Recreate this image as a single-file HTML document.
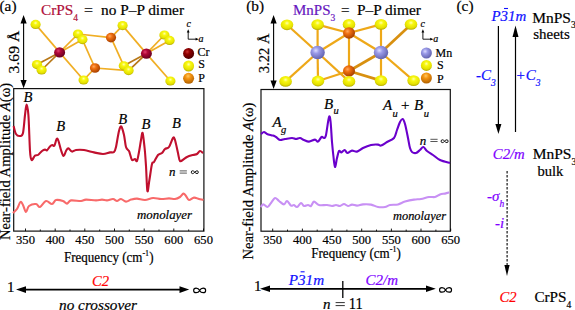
<!DOCTYPE html>
<html><head><meta charset="utf-8"><style>
html,body{margin:0;padding:0;background:#fff;overflow:hidden;}
svg{display:block;font-family:"Liberation Serif",serif;color:#000;}
text{stroke:currentColor;stroke-width:0.2px;}
</style></head><body>
<svg width="575" height="310" viewBox="0 0 575 310">
<defs>
<radialGradient id="gS" cx="0.5" cy="0.35" r="0.65"><stop offset="0" stop-color="#ffffb0"/><stop offset="0.3" stop-color="#f8f810"/><stop offset="0.75" stop-color="#e4e000"/><stop offset="1" stop-color="#b0a800"/></radialGradient>
<radialGradient id="gP" cx="0.38" cy="0.35" r="0.65"><stop offset="0" stop-color="#ffa860"/><stop offset="0.35" stop-color="#f07010"/><stop offset="1" stop-color="#a84000"/></radialGradient>
<radialGradient id="gCr" cx="0.38" cy="0.35" r="0.65"><stop offset="0" stop-color="#e04070"/><stop offset="0.35" stop-color="#b00838"/><stop offset="1" stop-color="#680020"/></radialGradient>
<radialGradient id="gCrL" cx="0.38" cy="0.35" r="0.65"><stop offset="0" stop-color="#c83030"/><stop offset="0.35" stop-color="#900000"/><stop offset="1" stop-color="#500000"/></radialGradient>
<radialGradient id="gMn" cx="0.38" cy="0.35" r="0.65"><stop offset="0" stop-color="#dcdcff"/><stop offset="0.35" stop-color="#9a9ae8"/><stop offset="1" stop-color="#6464b0"/></radialGradient>
<radialGradient id="gPL" cx="0.45" cy="0.3" r="0.7"><stop offset="0" stop-color="#ffc860"/><stop offset="0.35" stop-color="#f49410"/><stop offset="1" stop-color="#b06000"/></radialGradient>
</defs>
<text x="-0.5" y="11.2" font-size="15.3">(a)</text><text x="41.0" y="15.0" font-size="15.3" fill="#b0103a" style="color:#b0103a">CrPS<tspan font-size="9.5" dy="5.8">4</tspan></text><text x="84.0" y="15.0" font-size="15.0" textLength="9.0" lengthAdjust="spacingAndGlyphs">=</text><text x="101.0" y="15.0" font-size="15.0" textLength="83.0" lengthAdjust="spacingAndGlyphs">no P–P dimer</text><rect x="13.7" y="88.6" width="190.2" height="142.5" fill="none" stroke="#111" stroke-width="1.2"/><path d="M25.5 231.1v-2.6M40.3 231.1v-1.6M55.2 231.1v-2.6M70.0 231.1v-1.6M84.8 231.1v-2.6M99.7 231.1v-1.6M114.5 231.1v-2.6M129.3 231.1v-1.6M144.2 231.1v-2.6M159.0 231.1v-1.6M173.8 231.1v-2.6M188.7 231.1v-1.6M203.5 231.1v-2.6" stroke="#000" stroke-width="0.9" fill="none"/><g font-size="12.6"><text x="25.5" y="244.0" text-anchor="middle">350</text><text x="55.2" y="244.0" text-anchor="middle">400</text><text x="84.8" y="244.0" text-anchor="middle">450</text><text x="114.5" y="244.0" text-anchor="middle">500</text><text x="144.2" y="244.0" text-anchor="middle">550</text><text x="173.8" y="244.0" text-anchor="middle">600</text><text x="203.5" y="244.0" text-anchor="middle">650</text></g><path d="M13.6 126.0 C14.0 127.3 14.9 132.3 16.0 134.0 C17.1 135.7 18.8 136.2 20.0 136.0 C21.2 135.8 22.2 136.5 23.0 133.0 C23.8 129.5 24.4 119.7 25.0 115.0 C25.6 110.3 26.0 104.6 26.6 104.6 C27.2 104.6 27.8 107.3 28.4 115.0 C29.0 122.7 29.5 143.5 30.0 151.0 C30.5 158.5 30.8 159.2 31.6 160.0 C32.4 160.8 33.9 156.4 35.0 155.6 C36.1 154.8 36.8 155.8 38.0 155.0 C39.2 154.2 40.8 151.9 42.0 151.0 C43.2 150.1 44.2 149.7 45.0 149.6 C45.8 149.5 46.2 150.9 47.0 150.4 C47.8 149.9 49.1 147.3 50.0 146.4 C50.9 145.5 51.7 145.1 52.4 145.0 C53.1 144.9 53.6 146.7 54.4 145.6 C55.2 144.5 56.3 137.9 57.4 138.6 C58.5 139.3 60.0 147.1 61.0 150.0 C62.0 152.9 62.8 155.8 63.6 156.0 C64.4 156.2 65.2 152.3 66.0 151.0 C66.8 149.7 67.4 148.3 68.4 148.4 C69.4 148.5 70.7 151.3 72.0 151.6 C73.3 151.9 74.0 150.3 76.0 150.0 C78.0 149.7 81.0 149.6 84.0 150.0 C87.0 150.4 90.8 151.7 94.0 152.4 C97.2 153.1 100.3 154.0 103.0 154.0 C105.7 154.0 108.2 152.7 110.0 152.4 C111.8 152.1 113.0 152.9 114.0 152.0 C115.0 151.1 115.2 150.5 116.0 147.0 C116.8 143.5 118.1 134.4 119.0 131.0 C119.9 127.6 120.6 125.9 121.4 126.6 C122.2 127.3 123.2 131.6 124.0 135.0 C124.8 138.4 125.2 144.3 126.0 147.0 C126.8 149.7 128.3 149.8 129.0 151.0 C129.7 152.2 129.5 152.5 130.0 154.0 C130.5 155.5 131.2 159.2 132.0 160.0 C132.8 160.8 134.2 158.8 135.0 159.0 C135.8 159.2 136.3 162.2 137.0 161.0 C137.7 159.8 138.3 155.5 139.0 152.0 C139.7 148.5 140.4 143.2 141.0 140.0 C141.6 136.8 142.0 131.7 142.6 133.0 C143.2 134.3 144.0 142.5 144.6 148.0 C145.2 153.5 145.5 158.8 146.0 166.0 C146.5 173.2 146.8 188.7 147.4 191.0 C148.0 193.3 148.6 184.5 149.4 180.0 C150.2 175.5 151.2 167.0 152.0 164.0 C152.8 161.0 153.0 163.5 154.0 162.0 C155.0 160.5 156.7 156.5 158.0 155.0 C159.3 153.5 160.8 154.0 162.0 153.0 C163.2 152.0 163.8 150.0 165.0 149.0 C166.2 148.0 167.7 148.8 169.0 147.0 C170.3 145.2 172.0 139.2 173.0 138.0 C174.0 136.8 174.2 137.5 175.0 140.0 C175.8 142.5 177.2 149.5 178.0 153.0 C178.8 156.5 179.0 160.0 180.0 161.0 C181.0 162.0 182.8 159.7 184.0 159.0 C185.2 158.3 185.5 157.7 187.0 157.0 C188.5 156.3 191.3 155.5 193.0 155.0 C194.7 154.5 195.8 154.7 197.0 154.0 C198.2 153.3 199.0 151.2 200.0 151.0 C201.0 150.8 202.5 152.7 203.0 153.0" fill="none" stroke="#c0102e" stroke-width="2.1" stroke-linejoin="round"/><path d="M13.0 213.0 C13.7 212.3 15.8 210.8 17.0 209.0 C18.2 207.2 19.4 202.7 20.4 202.0 C21.4 201.3 22.1 203.3 23.0 205.0 C23.9 206.7 25.0 211.8 26.0 212.0 C27.0 212.2 27.3 207.3 29.0 206.0 C30.7 204.7 34.2 203.8 36.0 204.0 C37.8 204.2 38.3 207.5 40.0 207.0 C41.7 206.5 44.0 201.5 46.0 201.0 C48.0 200.5 50.3 204.2 52.0 204.0 C53.7 203.8 54.2 200.5 56.0 200.0 C57.8 199.5 61.2 200.4 63.0 201.0 C64.8 201.6 65.7 203.7 67.0 203.6 C68.3 203.5 68.7 200.8 71.0 200.4 C73.3 200.0 78.5 201.1 81.0 201.0 C83.5 200.9 83.5 199.7 86.0 199.6 C88.5 199.5 93.3 200.4 96.0 200.4 C98.7 200.4 100.2 199.6 102.0 199.6 C103.8 199.6 105.2 200.5 107.0 200.4 C108.8 200.3 111.3 198.9 113.0 199.0 C114.7 199.1 115.7 201.0 117.0 201.0 C118.3 201.0 119.5 198.9 121.0 199.0 C122.5 199.1 124.3 201.5 126.0 201.6 C127.7 201.7 129.2 200.1 131.0 199.6 C132.8 199.1 134.7 198.5 137.0 198.6 C139.3 198.7 142.3 200.1 145.0 200.0 C147.7 199.9 150.3 198.2 153.0 198.0 C155.7 197.8 158.3 198.9 161.0 199.0 C163.7 199.1 166.7 198.4 169.0 198.4 C171.3 198.4 173.2 199.2 175.0 199.0 C176.8 198.8 178.6 197.9 180.0 197.0 C181.4 196.1 182.4 193.8 183.4 193.6 C184.4 193.4 185.1 194.9 186.0 196.0 C186.9 197.1 187.7 199.7 189.0 200.0 C190.3 200.3 192.3 197.8 194.0 197.6 C195.7 197.4 197.4 198.6 199.0 199.0 C200.6 199.4 202.7 199.8 203.4 200.0" fill="none" stroke="#f86a6a" stroke-width="2.1" stroke-linejoin="round"/><g font-size="14.6" font-style="italic"><text x="23.4" y="101.5">B</text><text x="56.2" y="130.6">B</text><text x="118.3" y="124.4">B</text><text x="141.5" y="129.3">B</text><text x="172.0" y="128.2">B</text></g><text x="169.1" y="176.1" font-size="13.0" font-style="italic">n</text><path d="M179.7 170.9h7.2M179.7 173.1h7.2" stroke="#444" stroke-width="0.9"/><path d="M194.80 172.20 C196.30 170.31 198.30 170.31 198.30 172.20 C198.30 174.08 196.30 174.08 194.80 172.20 C193.30 170.31 191.30 170.31 191.30 172.20 C191.30 174.08 193.30 174.08 194.80 172.20" fill="none" stroke="#000" stroke-width="0.95"/><text x="137.0" y="218.5" font-size="13.0" font-style="italic" textLength="55.0" lengthAdjust="spacingAndGlyphs">monolayer</text><text x="10.2" y="240.1" font-size="14.6" textLength="157.3" lengthAdjust="spacingAndGlyphs" transform="rotate(-90 10.2 240.1)">Near-field Amplitude <tspan font-style="italic">A</tspan>(ω)</text><text x="64.0" y="262.3" font-size="13.8" textLength="89.5" lengthAdjust="spacingAndGlyphs">Frequency (cm<tspan font-size="8.5" dy="-6.5">-1</tspan><tspan dy="6.5">)</tspan></text><text x="7.0" y="292.0" font-size="15.0">1</text><path d="M24 289.6H182" stroke="#000" stroke-width="1.8"/><path d="M16 289.6L26 286.2V293Z M189.2 289.6L179.5 286.2V293Z" fill="#000"/><path d="M199.65 290.40 C201.15 287.34 205.65 287.34 205.65 290.40 C205.65 293.45 201.15 293.45 199.65 290.40 C198.15 287.34 193.65 287.34 193.65 290.40 C193.65 293.45 198.15 293.45 199.65 290.40" fill="none" stroke="#000" stroke-width="1.15"/><text x="92.0" y="286.0" font-size="14.6" font-style="italic" fill="#ff0000" style="color:#ff0000">C2</text><text x="59.0" y="309.5" font-size="15.3" font-style="italic" textLength="78.0" lengthAdjust="spacingAndGlyphs">no crossover</text><text x="246.2" y="11.0" font-size="15.3">(b)</text><text x="293.0" y="15.0" font-size="15.0" fill="#6818c0" style="color:#6818c0">MnPS<tspan font-size="9.5" dy="5.8">3</tspan></text><text x="341.0" y="15.0" font-size="15.0" textLength="8.5" lengthAdjust="spacingAndGlyphs">=</text><text x="357.0" y="15.0" font-size="15.0" textLength="64.0" lengthAdjust="spacingAndGlyphs">P–P dimer</text><rect x="261.0" y="89.5" width="189.3" height="141.7" fill="none" stroke="#111" stroke-width="1.2"/><path d="M272.7 231.2v-2.6M287.5 231.2v-1.6M302.4 231.2v-2.6M317.2 231.2v-1.6M332.0 231.2v-2.6M346.9 231.2v-1.6M361.7 231.2v-2.6M376.5 231.2v-1.6M391.4 231.2v-2.6M406.2 231.2v-1.6M421.0 231.2v-2.6M435.9 231.2v-1.6M450.7 231.2v-2.6" stroke="#000" stroke-width="0.9" fill="none"/><g font-size="12.6"><text x="272.7" y="244.1" text-anchor="middle">350</text><text x="302.4" y="244.1" text-anchor="middle">400</text><text x="332.0" y="244.1" text-anchor="middle">450</text><text x="361.7" y="244.1" text-anchor="middle">500</text><text x="391.4" y="244.1" text-anchor="middle">550</text><text x="421.0" y="244.1" text-anchor="middle">600</text><text x="450.7" y="244.1" text-anchor="middle">650</text></g><path d="M261.0 134.0 C261.5 133.7 263.0 132.0 264.0 132.0 C265.0 132.0 265.5 133.4 267.0 134.0 C268.5 134.6 271.5 135.1 273.0 135.6 C274.5 136.1 274.8 136.3 276.0 137.0 C277.2 137.7 278.5 139.7 280.0 140.0 C281.5 140.3 283.0 139.3 285.0 139.0 C287.0 138.7 290.2 138.0 292.0 138.0 C293.8 138.0 294.7 139.0 296.0 139.0 C297.3 139.0 298.7 137.8 300.0 138.0 C301.3 138.2 302.5 139.4 304.0 140.0 C305.5 140.6 307.2 141.7 309.0 141.6 C310.8 141.5 313.5 139.6 315.0 139.6 C316.5 139.6 316.9 142.0 318.0 141.6 C319.1 141.2 320.6 137.6 321.6 137.0 C322.6 136.4 323.3 138.3 324.0 138.0 C324.7 137.7 325.2 138.5 326.0 135.0 C326.8 131.5 328.2 119.2 329.0 117.0 C329.8 114.8 330.1 117.8 330.6 122.0 C331.1 126.2 331.5 136.3 332.0 142.0 C332.5 147.7 332.9 151.8 333.4 156.0 C333.9 160.2 334.4 166.7 335.0 167.0 C335.6 167.3 336.3 160.7 337.0 158.0 C337.7 155.3 338.3 151.9 339.0 151.0 C339.7 150.1 340.5 152.6 341.4 152.4 C342.3 152.2 343.6 149.9 344.6 150.0 C345.6 150.1 346.2 152.9 347.4 153.0 C348.6 153.1 350.4 150.8 352.0 150.6 C353.6 150.4 355.2 152.0 357.0 151.6 C358.8 151.2 360.7 149.1 363.0 148.0 C365.3 146.9 368.5 145.6 371.0 145.0 C373.5 144.4 376.3 144.5 378.0 144.6 C379.7 144.7 379.5 146.0 381.0 145.6 C382.5 145.2 384.8 143.3 387.0 142.0 C389.2 140.7 392.3 140.0 394.0 138.0 C395.7 136.0 396.0 132.7 397.0 130.0 C398.0 127.3 399.1 123.8 400.0 122.0 C400.9 120.2 401.8 118.7 402.6 119.0 C403.4 119.3 404.1 120.8 405.0 124.0 C405.9 127.2 407.2 134.0 408.0 138.0 C408.8 142.0 409.3 145.7 410.0 148.0 C410.7 150.3 411.0 151.2 412.0 152.0 C413.0 152.8 414.7 153.3 416.0 153.0 C417.3 152.7 418.8 151.0 420.0 150.0 C421.2 149.0 422.2 146.8 423.4 147.0 C424.6 147.2 425.4 149.7 427.0 151.0 C428.6 152.3 430.8 153.5 433.0 155.0 C435.2 156.5 437.2 158.7 440.0 160.0 C442.8 161.3 448.3 162.5 450.0 163.0" fill="none" stroke="#6a00cc" stroke-width="2.1" stroke-linejoin="round"/><path d="M260.6 207.0 C261.1 206.6 262.3 204.4 263.4 204.4 C264.5 204.4 266.1 207.2 267.4 207.0 C268.7 206.8 269.7 204.5 271.0 203.0 C272.3 201.5 273.7 198.3 275.0 198.0 C276.3 197.7 277.5 199.9 279.0 201.0 C280.5 202.1 282.7 204.4 284.0 204.4 C285.3 204.4 285.8 200.8 287.0 201.0 C288.2 201.2 289.8 204.9 291.0 205.6 C292.2 206.3 293.0 204.8 294.0 205.0 C295.0 205.2 295.8 207.3 297.0 207.0 C298.2 206.7 299.8 203.2 301.0 203.0 C302.2 202.8 302.8 205.7 304.0 206.0 C305.2 206.3 306.8 205.0 308.0 205.0 C309.2 205.0 310.0 206.6 311.0 206.0 C312.0 205.4 312.7 201.8 314.0 201.6 C315.3 201.4 316.8 204.4 319.0 205.0 C321.2 205.6 324.8 204.8 327.0 205.0 C329.2 205.2 330.5 206.0 332.0 206.0 C333.5 206.0 334.7 205.0 336.0 205.0 C337.3 205.0 338.7 206.2 340.0 206.0 C341.3 205.8 342.7 204.0 344.0 204.0 C345.3 204.0 346.7 205.9 348.0 206.0 C349.3 206.1 350.5 204.7 352.0 204.6 C353.5 204.5 355.2 205.6 357.0 205.6 C358.8 205.6 360.7 204.6 363.0 204.4 C365.3 204.2 368.5 204.2 371.0 204.6 C373.5 205.0 375.7 206.6 378.0 207.0 C380.3 207.4 383.0 207.3 385.0 207.0 C387.0 206.7 387.8 205.4 390.0 205.0 C392.2 204.6 395.5 205.0 398.0 204.4 C400.5 203.8 402.3 202.4 405.0 201.6 C407.7 200.8 411.3 200.0 414.0 199.6 C416.7 199.2 418.5 199.4 421.0 199.0 C423.5 198.6 426.7 197.3 429.0 197.0 C431.3 196.7 433.2 197.4 435.0 197.0 C436.8 196.6 438.3 195.0 440.0 194.4 C441.7 193.8 443.4 193.9 445.0 193.6 C446.6 193.3 448.7 192.6 449.4 192.4" fill="none" stroke="#c890f4" stroke-width="2.1" stroke-linejoin="round"/><g font-size="15" font-style="italic"><text x="272.5" y="127.2">A</text><text x="281" y="133.3" font-size="10.5">g</text><text x="324" y="108.5">B</text><text x="333.6" y="114.4" font-size="10.5">u</text><text x="383" y="110.3">A</text><text x="392.4" y="117" font-size="10.5">u</text><text x="401" y="110.3" font-style="normal">+</text><text x="414" y="110.3">B</text><text x="423.8" y="117" font-size="10.5">u</text></g><text x="419.8" y="144.5" font-size="13.0" font-style="italic">n</text><path d="M430.4 139.3h7.2M430.4 141.5h7.2" stroke="#444" stroke-width="0.9"/><path d="M444.60 141.20 C446.10 139.31 448.10 139.31 448.10 141.20 C448.10 143.08 446.10 143.08 444.60 141.20 C443.10 139.31 441.10 139.31 441.10 141.20 C441.10 143.08 443.10 143.08 444.60 141.20" fill="none" stroke="#000" stroke-width="0.95"/><text x="393.0" y="220.0" font-size="13.0" font-style="italic" textLength="53.0" lengthAdjust="spacingAndGlyphs">monolayer</text><text x="253.4" y="259.6" font-size="14.6" textLength="157.0" lengthAdjust="spacingAndGlyphs" transform="rotate(-90 253.4 259.6)">Near-field Amplitude <tspan font-style="italic">A</tspan>(ω)</text><text x="311.3" y="258.2" font-size="13.8" textLength="89.5" lengthAdjust="spacingAndGlyphs">Frequency (cm<tspan font-size="8.5" dy="-6.5">-1</tspan><tspan dy="6.5">)</tspan></text><text x="254.0" y="291.0" font-size="15.0">1</text><path d="M268 288.8H428" stroke="#000" stroke-width="1.8"/><path d="M260 288.7L270 285.4V292Z M435.8 288.7L426 285.4V292Z" fill="#000"/><path d="M342.8 281V298" stroke="#000" stroke-width="1.3"/><path d="M445.55 289.90 C447.05 286.84 451.55 286.84 451.55 289.90 C451.55 292.95 447.05 292.95 445.55 289.90 C444.05 286.84 439.55 286.84 439.55 289.90 C439.55 292.95 444.05 292.95 445.55 289.90" fill="none" stroke="#000" stroke-width="1.15"/><text x="288.8" y="285.0" font-size="15.0" font-style="italic" fill="#1010ff" style="color:#1010ff" textLength="35.3" lengthAdjust="spacingAndGlyphs">P31m</text><path d="M300.6 271.8h4" stroke="#1010ff" stroke-width="1.1"/><text x="365.6" y="285.0" font-size="14.9" font-style="italic" fill="#8000ff" style="color:#8000ff" textLength="32.4" lengthAdjust="spacingAndGlyphs">C2/m</text><text x="323.0" y="309.0" font-size="15.0" font-style="italic">n</text><path d="M335.6 302.6h9.2M335.6 305.6h9.2" stroke="#333" stroke-width="1"/><text x="348.8" y="309.0" font-size="16.0" textLength="14.0" lengthAdjust="spacingAndGlyphs">11</text><text x="456.5" y="11.2" font-size="15.3">(c)</text><text x="491.5" y="21.0" font-size="14.8" font-style="italic" fill="#1010ff" style="color:#1010ff" textLength="34.8" lengthAdjust="spacingAndGlyphs">P31m</text><path d="M504 8.5h4" stroke="#1010ff" stroke-width="1.1"/><text x="532.2" y="23.0" font-size="15.5">MnPS<tspan font-size="9.5" dy="5">3</tspan></text><text x="533.3" y="39.4" font-size="15.2" textLength="36.5" lengthAdjust="spacingAndGlyphs">sheets</text><path d="M498.4 26V126" stroke="#000" stroke-width="1.2"/><path d="M495.4 124L498.4 134L501.4 124Z" fill="#000"/><path d="M515.5 36V132" stroke="#000" stroke-width="1.2"/><path d="M512.5 37L515.5 25.5L518.5 37Z" fill="#000"/><g font-size="15" font-style="italic" fill="#1010ff" style="color:#1010ff"><text x="476" y="80.4">-C<tspan font-size="9.5" dy="5.6">3</tspan></text><text x="515.6" y="80.4">+C<tspan font-size="9.5" dy="5.6">3</tspan></text></g><text x="492.8" y="159.4" font-size="14.8" font-style="italic" fill="#8000ff" style="color:#8000ff" textLength="32.0" lengthAdjust="spacingAndGlyphs">C2/m</text><text x="532.7" y="159.4" font-size="15.5">MnPS<tspan font-size="9.5" dy="5.5">3</tspan></text><text x="537.4" y="175.9" font-size="14.8" textLength="26.0" lengthAdjust="spacingAndGlyphs">bulk</text><path d="M507.1 171V265" stroke="#000" stroke-width="1.1" stroke-dasharray="2.5 1.5"/><path d="M504.4 265L507 276L509.6 265Z" fill="#000"/><g font-size="15" font-style="italic" fill="#8000ff" style="color:#8000ff"><text x="487" y="201">-σ<tspan font-size="9.5" dy="5.8">h</tspan></text><text x="495" y="227.7">-i</text></g><text x="499.6" y="301.8" font-size="14.6" font-style="italic" fill="#ff0000" style="color:#ff0000">C2</text><text x="534.4" y="301.8" font-size="15.2">CrPS<tspan font-size="9.5" dy="6">4</tspan></text><path d="M23.6 22V81" stroke="#000" stroke-width="1.1"/><path d="M20.5 23.5L23.6 15L26.7 23.5Z M20.5 80L23.6 88.3L26.7 80Z" fill="#000"/><text x="19.3" y="73.4" font-size="15.5" textLength="42.6" lengthAdjust="spacingAndGlyphs" transform="rotate(-90 19.3 73.4)">3.69 Å</text><line x1="35.6" y1="24.4" x2="59.6" y2="52.4" stroke="#f0ae24" stroke-width="1.7"/><line x1="59.6" y1="52.4" x2="78.0" y2="34.0" stroke="#f0ae24" stroke-width="1.7"/><line x1="59.6" y1="52.4" x2="82.4" y2="39.6" stroke="#f0ae24" stroke-width="1.7"/><line x1="59.6" y1="52.4" x2="83.6" y2="80.0" stroke="#f0ae24" stroke-width="1.7"/><line x1="82.4" y1="39.6" x2="95.0" y2="68.0" stroke="#f0ae24" stroke-width="1.7"/><line x1="78.0" y1="34.0" x2="111.0" y2="37.6" stroke="#f0ae24" stroke-width="1.7"/><line x1="111.0" y1="37.6" x2="122.6" y2="25.6" stroke="#f0ae24" stroke-width="1.7"/><line x1="111.0" y1="37.6" x2="123.8" y2="65.8" stroke="#f0ae24" stroke-width="1.7"/><line x1="95.0" y1="68.0" x2="83.6" y2="80.0" stroke="#f0ae24" stroke-width="1.7"/><line x1="95.0" y1="68.0" x2="128.6" y2="70.6" stroke="#f0ae24" stroke-width="1.7"/><line x1="122.6" y1="25.6" x2="146.4" y2="53.6" stroke="#f0ae24" stroke-width="1.7"/><line x1="146.4" y1="53.6" x2="164.4" y2="35.0" stroke="#f0ae24" stroke-width="1.7"/><line x1="146.4" y1="53.6" x2="169.6" y2="40.4" stroke="#f0ae24" stroke-width="1.7"/><line x1="146.4" y1="53.6" x2="170.4" y2="81.0" stroke="#f0ae24" stroke-width="1.7"/><line x1="59.6" y1="52.4" x2="37.0" y2="64.6" stroke="#b87818" stroke-width="1.7"/><line x1="59.6" y1="52.4" x2="41.6" y2="70.0" stroke="#b87818" stroke-width="1.7"/><line x1="146.4" y1="53.6" x2="123.8" y2="65.8" stroke="#b87818" stroke-width="1.7"/><line x1="146.4" y1="53.6" x2="128.6" y2="70.6" stroke="#b87818" stroke-width="1.7"/><ellipse cx="35.6" cy="24.4" rx="5.1" ry="4.6" fill="url(#gS)"/><ellipse cx="78.0" cy="34.0" rx="5.1" ry="4.6" fill="url(#gS)"/><ellipse cx="82.4" cy="39.6" rx="5.1" ry="4.6" fill="url(#gS)"/><ellipse cx="59.6" cy="52.4" rx="5.5" ry="5.2" fill="url(#gCr)"/><ellipse cx="111.0" cy="37.6" rx="5.1" ry="4.8" fill="url(#gP)"/><ellipse cx="122.6" cy="25.6" rx="5.1" ry="4.6" fill="url(#gS)"/><ellipse cx="37.0" cy="64.6" rx="5.1" ry="4.6" fill="url(#gS)"/><ellipse cx="41.6" cy="70.0" rx="5.1" ry="4.6" fill="url(#gS)"/><ellipse cx="95.0" cy="68.0" rx="5.1" ry="4.8" fill="url(#gP)"/><ellipse cx="123.8" cy="65.8" rx="5.1" ry="4.6" fill="url(#gS)"/><ellipse cx="128.6" cy="70.6" rx="5.1" ry="4.6" fill="url(#gS)"/><ellipse cx="83.6" cy="80.0" rx="5.1" ry="4.6" fill="url(#gS)"/><ellipse cx="164.4" cy="35.0" rx="5.1" ry="4.6" fill="url(#gS)"/><ellipse cx="169.6" cy="40.4" rx="5.1" ry="4.6" fill="url(#gS)"/><ellipse cx="146.4" cy="53.6" rx="5.5" ry="5.2" fill="url(#gCr)"/><ellipse cx="170.4" cy="81.0" rx="5.1" ry="4.6" fill="url(#gS)"/><circle cx="188.6" cy="53.4" r="5.5" fill="url(#gCrL)"/><circle cx="188.6" cy="66.0" r="5.5" fill="url(#gS)"/><circle cx="188.6" cy="78.3" r="5.5" fill="url(#gPL)"/><g font-size="12"><text x="197.6" y="55.9" font-size="12.0">Cr</text><text x="198.3" y="68.3" font-size="12.0">S</text><text x="198.3" y="81.6" font-size="12.0">P</text></g><path d="M188.2 32V39.2H196" stroke="#000" stroke-width="0.9" fill="none"/><path d="M186.8 32.6L188.2 29.3L189.6 32.6Z M195.6 37.8L198.8 39.2L195.6 40.6Z" fill="#000"/><g font-size="10" font-style="italic"><text x="186.4" y="27.4">c</text><text x="198.6" y="41.8">a</text></g><path d="M273.6 22V82" stroke="#000" stroke-width="1.1"/><path d="M270.5 23.5L273.6 15L276.7 23.5Z M270.5 80.5L273.6 89L276.7 80.5Z" fill="#000"/><text x="269.3" y="73.2" font-size="15.0" textLength="39.7" lengthAdjust="spacingAndGlyphs" transform="rotate(-90 269.3 73.2)">3.22 Å</text><line x1="287.0" y1="24.8" x2="317.6" y2="52.5" stroke="#eea818" stroke-width="2.2"/><line x1="317.6" y1="24.6" x2="317.6" y2="52.5" stroke="#eea818" stroke-width="2.2"/><line x1="317.6" y1="24.6" x2="349.0" y2="33.0" stroke="#eea818" stroke-width="2.2"/><line x1="349.0" y1="33.0" x2="317.6" y2="52.5" stroke="#eea818" stroke-width="2.2"/><line x1="349.0" y1="33.0" x2="349.0" y2="71.0" stroke="#eea818" stroke-width="2.2"/><line x1="317.6" y1="52.5" x2="285.6" y2="81.4" stroke="#eea818" stroke-width="2.2"/><line x1="317.6" y1="52.5" x2="318.0" y2="81.0" stroke="#eea818" stroke-width="2.2"/><line x1="317.6" y1="52.5" x2="349.0" y2="81.4" stroke="#eea818" stroke-width="2.2"/><line x1="318.0" y1="81.0" x2="349.0" y2="71.0" stroke="#eea818" stroke-width="2.2"/><line x1="349.0" y1="33.0" x2="381.0" y2="24.4" stroke="#eea818" stroke-width="2.2"/><line x1="349.0" y1="33.0" x2="381.0" y2="52.5" stroke="#eea818" stroke-width="2.2"/><line x1="381.0" y1="24.4" x2="381.0" y2="52.5" stroke="#eea818" stroke-width="2.2"/><line x1="381.0" y1="52.5" x2="381.0" y2="80.6" stroke="#eea818" stroke-width="2.2"/><line x1="381.0" y1="52.5" x2="413.6" y2="80.6" stroke="#eea818" stroke-width="2.2"/><line x1="349.0" y1="71.0" x2="349.0" y2="81.4" stroke="#eea818" stroke-width="2.2"/><line x1="411.0" y1="24.4" x2="381.0" y2="52.5" stroke="#d89010" stroke-width="2.7"/><line x1="381.0" y1="52.5" x2="349.0" y2="71.0" stroke="#d89010" stroke-width="2.7"/><line x1="349.0" y1="71.0" x2="381.0" y2="80.6" stroke="#d89010" stroke-width="2.7"/><ellipse cx="287.0" cy="24.8" rx="6.3" ry="5.4" fill="url(#gS)"/><ellipse cx="317.6" cy="24.6" rx="6.3" ry="5.4" fill="url(#gS)"/><ellipse cx="349.0" cy="24.4" rx="6.3" ry="5.4" fill="url(#gS)"/><ellipse cx="381.0" cy="24.4" rx="6.3" ry="5.4" fill="url(#gS)"/><ellipse cx="411.0" cy="24.4" rx="6.3" ry="5.4" fill="url(#gS)"/><ellipse cx="349.0" cy="33.0" rx="6.0" ry="5.7" fill="url(#gP)"/><ellipse cx="317.6" cy="52.5" rx="7.2" ry="6.8" fill="url(#gMn)"/><ellipse cx="381.0" cy="52.5" rx="7.2" ry="6.8" fill="url(#gMn)"/><ellipse cx="349.0" cy="71.0" rx="6.0" ry="5.7" fill="url(#gP)"/><ellipse cx="285.6" cy="81.4" rx="6.3" ry="5.4" fill="url(#gS)"/><ellipse cx="318.0" cy="81.0" rx="6.3" ry="5.4" fill="url(#gS)"/><ellipse cx="349.0" cy="81.4" rx="6.3" ry="5.4" fill="url(#gS)"/><ellipse cx="381.0" cy="80.6" rx="6.3" ry="5.4" fill="url(#gS)"/><ellipse cx="413.6" cy="80.6" rx="6.3" ry="5.4" fill="url(#gS)"/><circle cx="426.4" cy="53.0" r="5.5" fill="url(#gMn)"/><circle cx="426.4" cy="65.4" r="5.5" fill="url(#gS)"/><circle cx="426.4" cy="78.0" r="5.5" fill="url(#gPL)"/><text x="435.6" y="56.5" font-size="12.0">Mn</text><text x="437.0" y="68.5" font-size="12.0">S</text><text x="437.0" y="82.5" font-size="12.0">P</text><path d="M422.9 32V39.2H430.6" stroke="#000" stroke-width="0.9" fill="none"/><path d="M421.5 32.6L422.9 29.3L424.3 32.6Z M430.2 37.8L433.4 39.2L430.2 40.6Z" fill="#000"/><g font-size="10" font-style="italic"><text x="420.6" y="27.2">c</text><text x="433.2" y="41.6">a</text></g></svg></body></html>
